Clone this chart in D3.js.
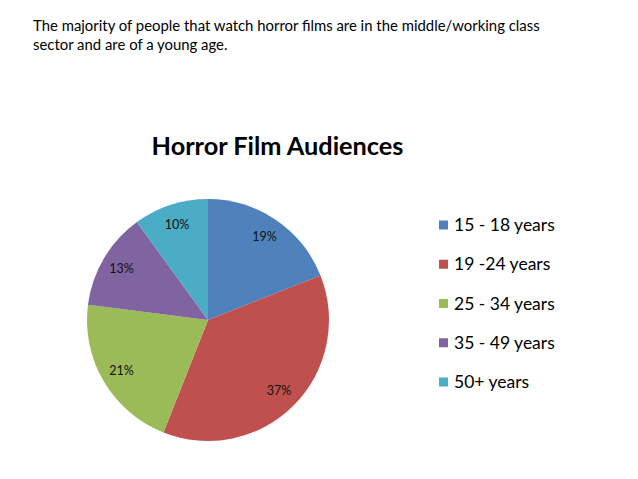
<!DOCTYPE html>
<html>
<head>
<meta charset="utf-8">
<script src="https://cdn.jsdelivr.net/npm/d3@7"></script>
<style>
  body { margin: 0; background: #fff; }
  svg { display: block; font-family: Lato, "Open Sans", sans-serif; }
</style>
</head>
<body>
<div id="chart"></div>
<script>
const width = 638;
const height = 479;

const categories = ["15 - 18 years", "19 -24 years", "25 - 34 years", "35 - 49 years", "50+ years"];
const shares = [19, 37, 21, 13, 10];
const colours = ["#4F81BD", "#C0504D", "#9BBB59", "#8064A2", "#4BACC6"];
const introLines = [
  "The majority of people that watch horror films are in the middle/working class",
  "sector and are of a young age."
];

const svg = d3.select("#chart")
  .append("svg")
  .attr("width", width)
  .attr("height", height);

// Intro text
svg.append("text")
  .attr("x", 33)
  .attr("y", 31)
  .attr("font-size", 14.9)
  .attr("fill", "#000")
  .selectAll("tspan")
  .data(introLines)
  .enter()
  .append("tspan")
  .attr("x", 33)
  .attr("dy", (d, i) => i ? 19 : 0)
  .text(d => d);

// Chart title
svg.append("text")
  .attr("x", 277.5)
  .attr("y", 155)
  .attr("text-anchor", "middle")
  .attr("font-size", 25.3)
  .attr("font-weight", "bold")
  .attr("fill", "#000")
  .text("Horror Film Audiences");

// Pie
const cx = 208, cy = 320, r = 121;
const pie = d3.pie().sort(null).value(d => d);
const arcs = pie(shares);
const arc = d3.arc().innerRadius(0).outerRadius(r);
const labelArc = d3.arc().innerRadius(r * 0.83).outerRadius(r * 0.83);

const color = d3.scaleOrdinal().domain(categories).range(colours);

const g = svg.append("g").attr("transform", `translate(${cx},${cy})`);

g.selectAll("path")
  .data(arcs)
  .enter()
  .append("path")
  .attr("d", arc)
  .attr("fill", (d, i) => color(categories[i]));

g.selectAll("text.pct")
  .data(arcs)
  .enter()
  .append("text")
  .attr("class", "pct")
  .attr("transform", d => `translate(${labelArc.centroid(d)})`)
  .attr("text-anchor", "middle")
  .attr("dy", "0.35em")
  .attr("font-size", 12.5)
  .attr("fill", "#111")
  .text(d => d.value + "%");

// Legend
const y = d3.scalePoint()
  .domain(categories)
  .range([225, 382]);

const legend = svg.append("g");

legend.selectAll("rect")
  .data(categories)
  .enter()
  .append("rect")
  .attr("x", 439)
  .attr("y", d => y(d) - 4.5)
  .attr("width", 9)
  .attr("height", 9)
  .attr("fill", d => color(d));

legend.selectAll("text")
  .data(categories)
  .enter()
  .append("text")
  .attr("x", 454)
  .attr("y", d => y(d))
  .attr("dy", "0.35em")
  .attr("font-size", 17.5)
  .attr("fill", "#000")
  .text(d => d);
</script>
</body>
</html>
